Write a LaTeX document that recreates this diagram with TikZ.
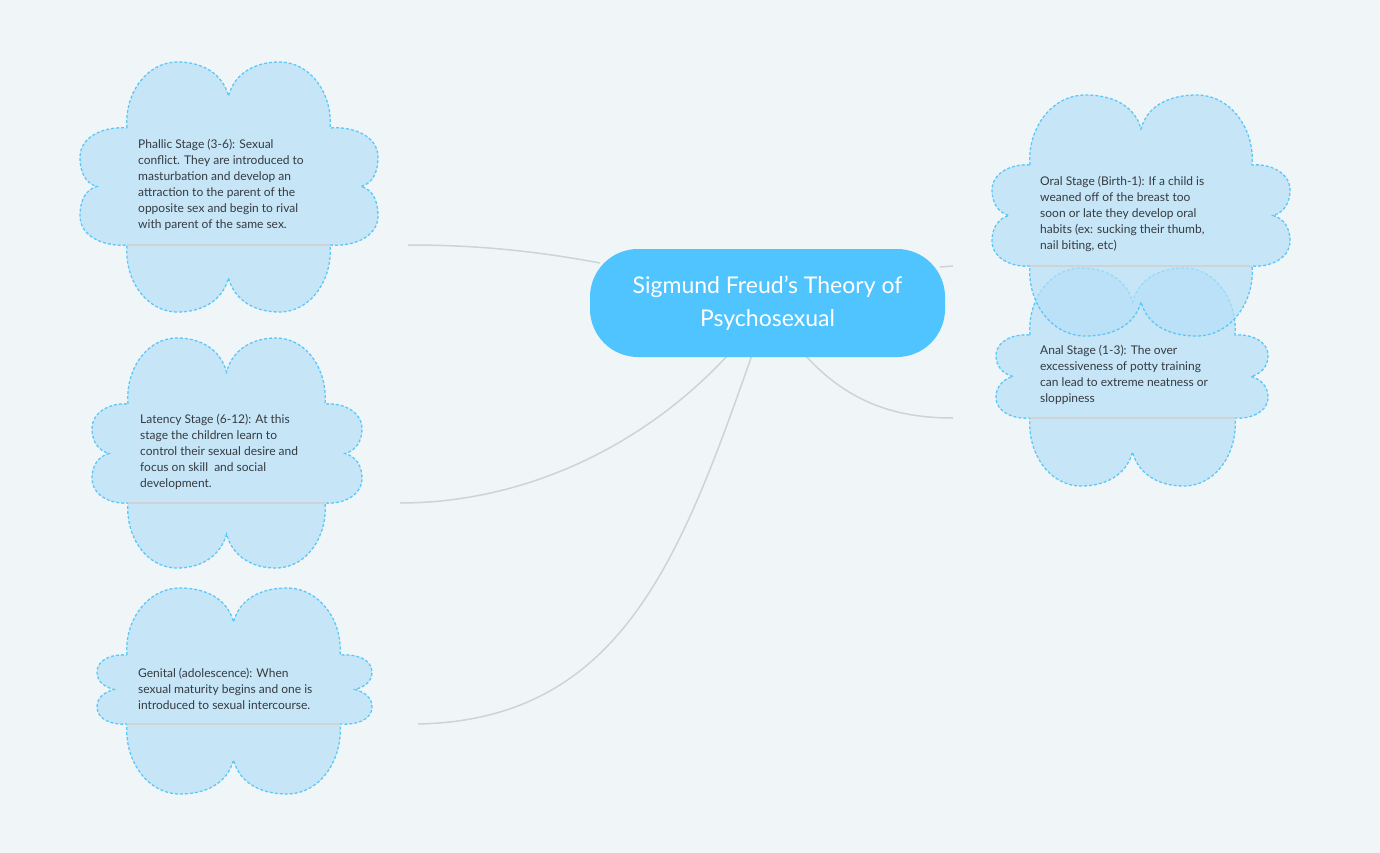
\documentclass[tikz,border=0pt]{standalone}
\usepackage{fontspec}
\setmainfont{Lato}
\definecolor{bg}{HTML}{F0F5F8}
\definecolor{cfill}{HTML}{B5E0F8}
\definecolor{cline}{HTML}{5BC8F8}
\definecolor{ctr}{HTML}{50C4FE}
\definecolor{conn}{HTML}{CFD3D6}
\definecolor{txt}{HTML}{353A40}
\newcommand\mycloud[9]{%
% #1 x0 #2 x1 #3 y0 #4 y1 #5 xl #6 xr #7 yt #8 yb #9 name
\pgfmathsetmacro\xm{(#5+#6)/2}\pgfmathsetmacro\xa{(#5+\xm)/2}\pgfmathsetmacro\xb{(\xm+#6)/2}
\pgfmathsetmacro\ym{(#7+#8)/2}\pgfmathsetmacro\ya{(#7+\ym)/2}\pgfmathsetmacro\yb{(\ym+#8)/2}
\path[cloudst] (#5,-#7) to[out=95,in=180] (\xa,-#3) to[out=0,in=105] (\xm,-#3-34)
 to[out=75,in=180] (\xb,-#3) to[out=0,in=85] (#6,-#7)
 to[out=5,in=90] (#2,-\ya) to[out=-90,in=15] (#2-17,-\ym) to[out=-15,in=90] (#2,-\yb) to[out=-90,in=-5] (#6,-#8)
 to[out=-85,in=0] (\xb,-#4) to[out=180,in=-75] (\xm,-#4+34) to[out=-105,in=0] (\xa,-#4) to[out=180,in=-95] (#5,-#8)
 to[out=185,in=-90] (#1,-\yb) to[out=90,in=195] (#1+17,-\ym) to[out=165,in=-90] (#1,-\ya) to[out=90,in=175] (#5,-#7) -- cycle;
\coordinate (#9l) at (#5,-#8); \coordinate (#9r) at (#6,-#8);
\draw[conn] (#9l) -- (#9r);}
\begin{document}
\begin{tikzpicture}[x=1pt,y=1pt,
 cloudst/.style={fill=cfill,fill opacity=0.7,draw=cline,draw opacity=1,line width=1.3pt,dash pattern=on 3pt off 2pt},
 conn/.style={draw=conn,line width=1.5pt},
 lbl/.style={anchor=north west,align=left,text=txt,font=\fontsize{12}{16}\selectfont,inner sep=0pt}]
\fill[bg] (0,0) rectangle (1380,-853);
\useasboundingbox (0,0) rectangle (1380,-853);
% connectors
\coordinate (pe) at (408,-245); \coordinate (le) at (400,-503); \coordinate (ge) at (418,-724);
\coordinate (oe) at (953,-266); \coordinate (ae) at (953,-418);
\draw[conn] (600,-263) .. controls (520,-248) and (460,-245) .. (pe);
\draw[conn] (728,-355) .. controls (640,-450) and (520,-503) .. (le);
\draw[conn] (752,-355) .. controls (680,-560) and (620,-720) .. (ge);
\draw[conn] (940,-267) -- (oe);
\draw[conn] (805,-355) .. controls (850,-405) and (900,-418) .. (ae);
% clouds
\mycloud{80}{378}{62}{312}{127}{330}{128}{245}{ph}
\mycloud{92}{362}{338}{568}{128}{325}{404}{503}{la}
\mycloud{97}{372}{588}{794}{127}{340}{655}{724}{ge}
\mycloud{996}{1268}{268}{486}{1030}{1235}{335}{418}{an}
\mycloud{992}{1290}{95}{336}{1030}{1252}{165}{266}{or}
\node[lbl] (tph) at (138,-139) {Phallic Stage (3-6): Sexual\\conflict. They are introduced to\\masturbation and develop an\\attraction to the parent of the\\opposite sex and begin to rival\\with parent of the same sex.};
\node[lbl] (tla) at (140,-414) {Latency Stage (6-12): At this\\stage the children learn to\\control their sexual desire and\\focus on skill\ \ and social\\development.};
\node[lbl] (tge) at (138,-668) {Genital (adolescence): When\\sexual maturity begins and one is\\introduced to sexual intercourse.};
\node[lbl] (tor) at (1040,-176) {Oral Stage (Birth-1): If a child is\\weaned off of the breast too\\soon or late they develop oral\\habits (ex: sucking their thumb,\\nail biting, etc)};
\node[lbl] (tan) at (1040,-345) {Anal Stage (1-3): The over\\excessiveness of potty training\\can lead to extreme neatness or\\sloppiness};
% center
\node[fill=ctr,rounded corners=48pt,minimum width=355pt,minimum height=108pt,inner sep=0pt,
 text=white,align=center,font=\fontsize{23}{33}\selectfont] (c) at (767.5,-303) {Sigmund Freud's Theory of\\Psychosexual};
\end{tikzpicture}
\end{document}
